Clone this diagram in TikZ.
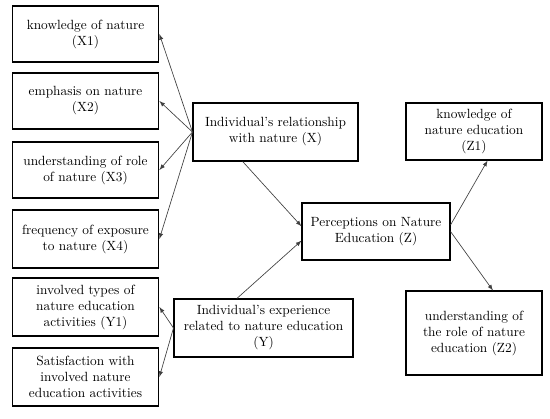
\documentclass[tikz,border=0pt]{standalone}
\usepackage{tikz}

\tikzset{
  factor/.style={shape=rectangle,draw=black,line width=0.8pt,align=center,inner sep=2pt,font=\normalsize},
  leftbox/.style={factor,minimum width=110pt,minimum height=42pt},
  link/.style={-latex,line width=0.5pt,black!75}
}

\begin{document}
\begin{tikzpicture}[x=0.75pt,y=-0.75pt]
			\useasboundingbox (0,0) rectangle (550,418);

			\node[leftbox] (x1) at (85.5,34) {knowledge of nature\\(X1)};
			\node[leftbox] (x2) at (85.5,101) {emphasis on nature\\(X2)};
			\node[leftbox] (x3) at (85.5,170) {understanding of role\\of nature (X3)};
			\node[leftbox,minimum height=43.5pt] (x4) at (85.5,239) {frequency of exposure\\to nature (X4)};
			\node[leftbox,minimum height=43.5pt] (y1) at (85.5,307) {involved types of\\nature education\\activities (Y1)};
			\node[leftbox,minimum height=43.5pt] (y2) at (85.5,377) {Satisfaction with\\involved nature\\education activities};

			\node[factor,minimum width=123.75pt,minimum height=43.5pt] (x) at (275.5,132) {Individual's relationship\\with nature (X)};
			\node[factor,minimum width=134.25pt,minimum height=43.5pt] (y) at (263.5,328) {Individual's experience\\related to nature education\\(Y)};
			\node[factor,minimum width=111pt,minimum height=42.75pt] (z) at (376,231.5) {Perceptions on Nature\\Education (Z)};
			\node[factor,minimum width=102pt,minimum height=42.75pt] (z1) at (474,131.5) {knowledge of\\nature education\\(Z1)};
			\node[factor,minimum width=102pt,minimum height=63pt] (z2) at (474,333) {understanding of\\the role of nature\\education (Z2)};

			%% lines
			\draw[link] (x.west) -- (x1.east);
			\draw[link] (x.west) -- (x2.east);
			\draw[link] (x.west) -- (x3.east);
			\draw[link] (x.west) -- (x4.east);
			\draw[link] (y.west) -- (y1.east);
			\draw[link] (y.west) -- (y2.east);
			\draw[link] (x.222) -- (z.176);
			\draw[link] (y.132) -- (z.187);
			\draw[link] (z.5) -- (z1.295);
			\draw[link] (z.east) -- (z2.66);
		\end{tikzpicture}
\end{document}
